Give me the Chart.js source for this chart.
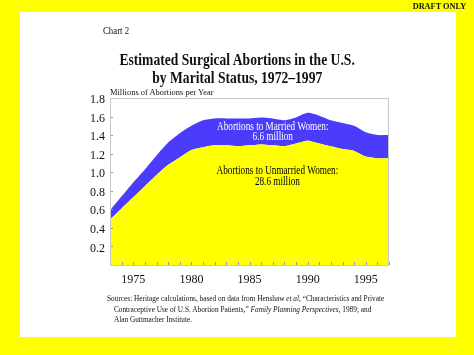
<!DOCTYPE html>
<html><head><meta charset="utf-8">
<script src="https://cdn.jsdelivr.net/npm/chart.js@4/dist/chart.umd.min.js"></script>
<style>
html,body{margin:0;padding:0;}
body{width:474px;height:355px;background:#ffff00;position:relative;overflow:hidden;font-family:"Liberation Serif","Times New Roman",serif;}
#panel{position:absolute;left:20px;top:12px;width:436px;height:325px;background:#fff;}
#c{position:absolute;left:0;top:0;}
.t{position:absolute;white-space:nowrap;color:#111;}
#draft{right:8px;top:1px;font-weight:bold;font-size:9px;transform:scaleX(0.92);transform-origin:right top;}
#chartno{left:103px;top:25px;font-size:10px;transform:scaleX(0.88);transform-origin:left top;}
#title{left:0;width:474px;text-align:center;top:51px;font-weight:bold;font-size:17px;line-height:18px;}
#title span{display:inline-block;transform:scaleX(0.8);}
#ylab{left:110px;top:87px;font-size:9px;transform:scaleX(0.94);transform-origin:left top;}
#src{left:107px;top:293px;font-size:8.5px;line-height:10.5px;transform:scaleX(0.86);transform-origin:left top;}
#src .i{padding-left:8px;}
</style></head>
<body>
<div id="panel"></div>
<canvas id="c" width="474" height="355"></canvas>
<div class="t" id="draft">DRAFT ONLY</div>
<div class="t" id="chartno">Chart 2</div>
<div class="t" id="title"><span>Estimated Surgical Abortions in the U.S.</span><br><span>by Marital Status, 1972–1997</span></div>
<div class="t" id="ylab">Millions of Abortions per Year</div>
<div class="t" id="src">Sources: Heritage calculations, based on data from Henshaw <i>et al</i>, “Characteristics and Private<br><span class="i">Contraceptive Use of U.S. Abortion Patients,” <i>Family Planning Perspectives</i>, 1989; and</span><br><span class="i">Alan Guttmacher Institute.</span></div>
<script>
const years = [1973,1974,1975,1976,1977,1978,1979,1980,1981,1982,1983,1984,1985,1986,1987,1988,1989,1990,1991,1992,1993,1994,1995,1996,1997];
const unmarried = [0.49,0.61,0.73,0.85,0.97,1.08,1.16,1.24,1.27,1.29,1.29,1.28,1.29,1.30,1.29,1.28,1.31,1.34,1.31,1.28,1.25,1.23,1.17,1.15,1.15];
const married = [0.10,0.13,0.16,0.18,0.21,0.24,0.26,0.26,0.29,0.29,0.29,0.30,0.29,0.29,0.29,0.28,0.28,0.30,0.30,0.28,0.28,0.27,0.26,0.25,0.25];
const yTicks = [0.2,0.4,0.6,0.8,1.0,1.2,1.4,1.6,1.8];
const xLabelYears = [1975,1980,1985,1990,1995];
const annotations = [
  {year:1987, value:1.49, text:'Abortions to Married Women:', color:'#ffffff'},
  {year:1987, value:1.38, text:'6.6 million', color:'#ffffff'},
  {year:1987.4, value:1.01, text:'Abortions to Unmarried Women:', color:'#000000'},
  {year:1987.4, value:0.89, text:'28.6 million', color:'#000000'}
];
const serif = '"Liberation Serif","Times New Roman",serif';

const decor = {
  id:'decor',
  afterDatasetsDraw(chart){
    const {ctx, chartArea:a, scales:{x,y}} = chart;
    ctx.save();
    ctx.font = '11.5px ' + serif;
    ctx.textAlign = 'center'; ctx.textBaseline = 'middle';
    annotations.forEach(n=>{
      const px = a.left + (n.year - years[0])/(years[years.length-1]-years[0])*(a.right-a.left);
      const py = y.getPixelForValue(n.value);
      ctx.save();
      ctx.translate(px, py); ctx.scale(0.8, 1);
      ctx.fillStyle = n.color;
      ctx.fillText(n.text, 0, 0);
      ctx.restore();
    });
    ctx.strokeStyle = '#999'; ctx.lineWidth = 1;
    years.forEach((yr,i)=>{
      const px = Math.round(x.getPixelForValue(i))+0.5;
      ctx.beginPath(); ctx.moveTo(px,a.bottom); ctx.lineTo(px,a.bottom-3); ctx.stroke();
    });
    yTicks.forEach(v=>{
      const py = Math.round(y.getPixelForValue(v))+0.5;
      ctx.beginPath(); ctx.moveTo(a.left,py); ctx.lineTo(a.left+3,py); ctx.stroke();
    });
    ctx.strokeStyle = '#c8c8c8';
    ctx.strokeRect(a.left+0.5, a.top+0.5, a.right-a.left-1, a.bottom-a.top);
    ctx.restore();
  }
};

new Chart(document.getElementById('c'), {
  type:'line',
  data:{
    labels: years,
    datasets:[
      {label:'Unmarried', data:unmarried, fill:'origin', backgroundColor:'#ffff00', borderWidth:0, pointRadius:0, tension:0.2, stack:'s'},
      {label:'Married', data:married, fill:'-1', backgroundColor:'#4a3cfa', borderWidth:0, pointRadius:0, tension:0.2, stack:'s'}
    ]
  },
  options:{
    responsive:false, animation:false, devicePixelRatio:1,
    layout:{padding:{top:98,right:85,left:0,bottom:0}},
    plugins:{legend:{display:false}, tooltip:{enabled:false}},
    scales:{
      x:{
        grid:{display:false}, border:{display:false},
        afterFit(s){ s.height = 90; },
        ticks:{autoSkip:false, maxRotation:0, padding:0, color:'#111', font:{family:serif,size:12},
          callback:(v,i)=> xLabelYears.includes(years[i]) ? String(years[i]) : ''}
      },
      y:{
        stacked:true, min:0, max:1.8,
        grid:{display:false, drawTicks:false}, border:{display:false},
        afterFit(s){ s.width = 110; },
        afterBuildTicks(s){ s.ticks = yTicks.map(v=>({value:v})); },
        ticks:{padding:5, labelOffset:2, color:'#111', font:{family:serif,size:12}, callback:v=>v.toFixed(1)}
      }
    }
  },
  plugins:[decor]
});
</script>
</body></html>
